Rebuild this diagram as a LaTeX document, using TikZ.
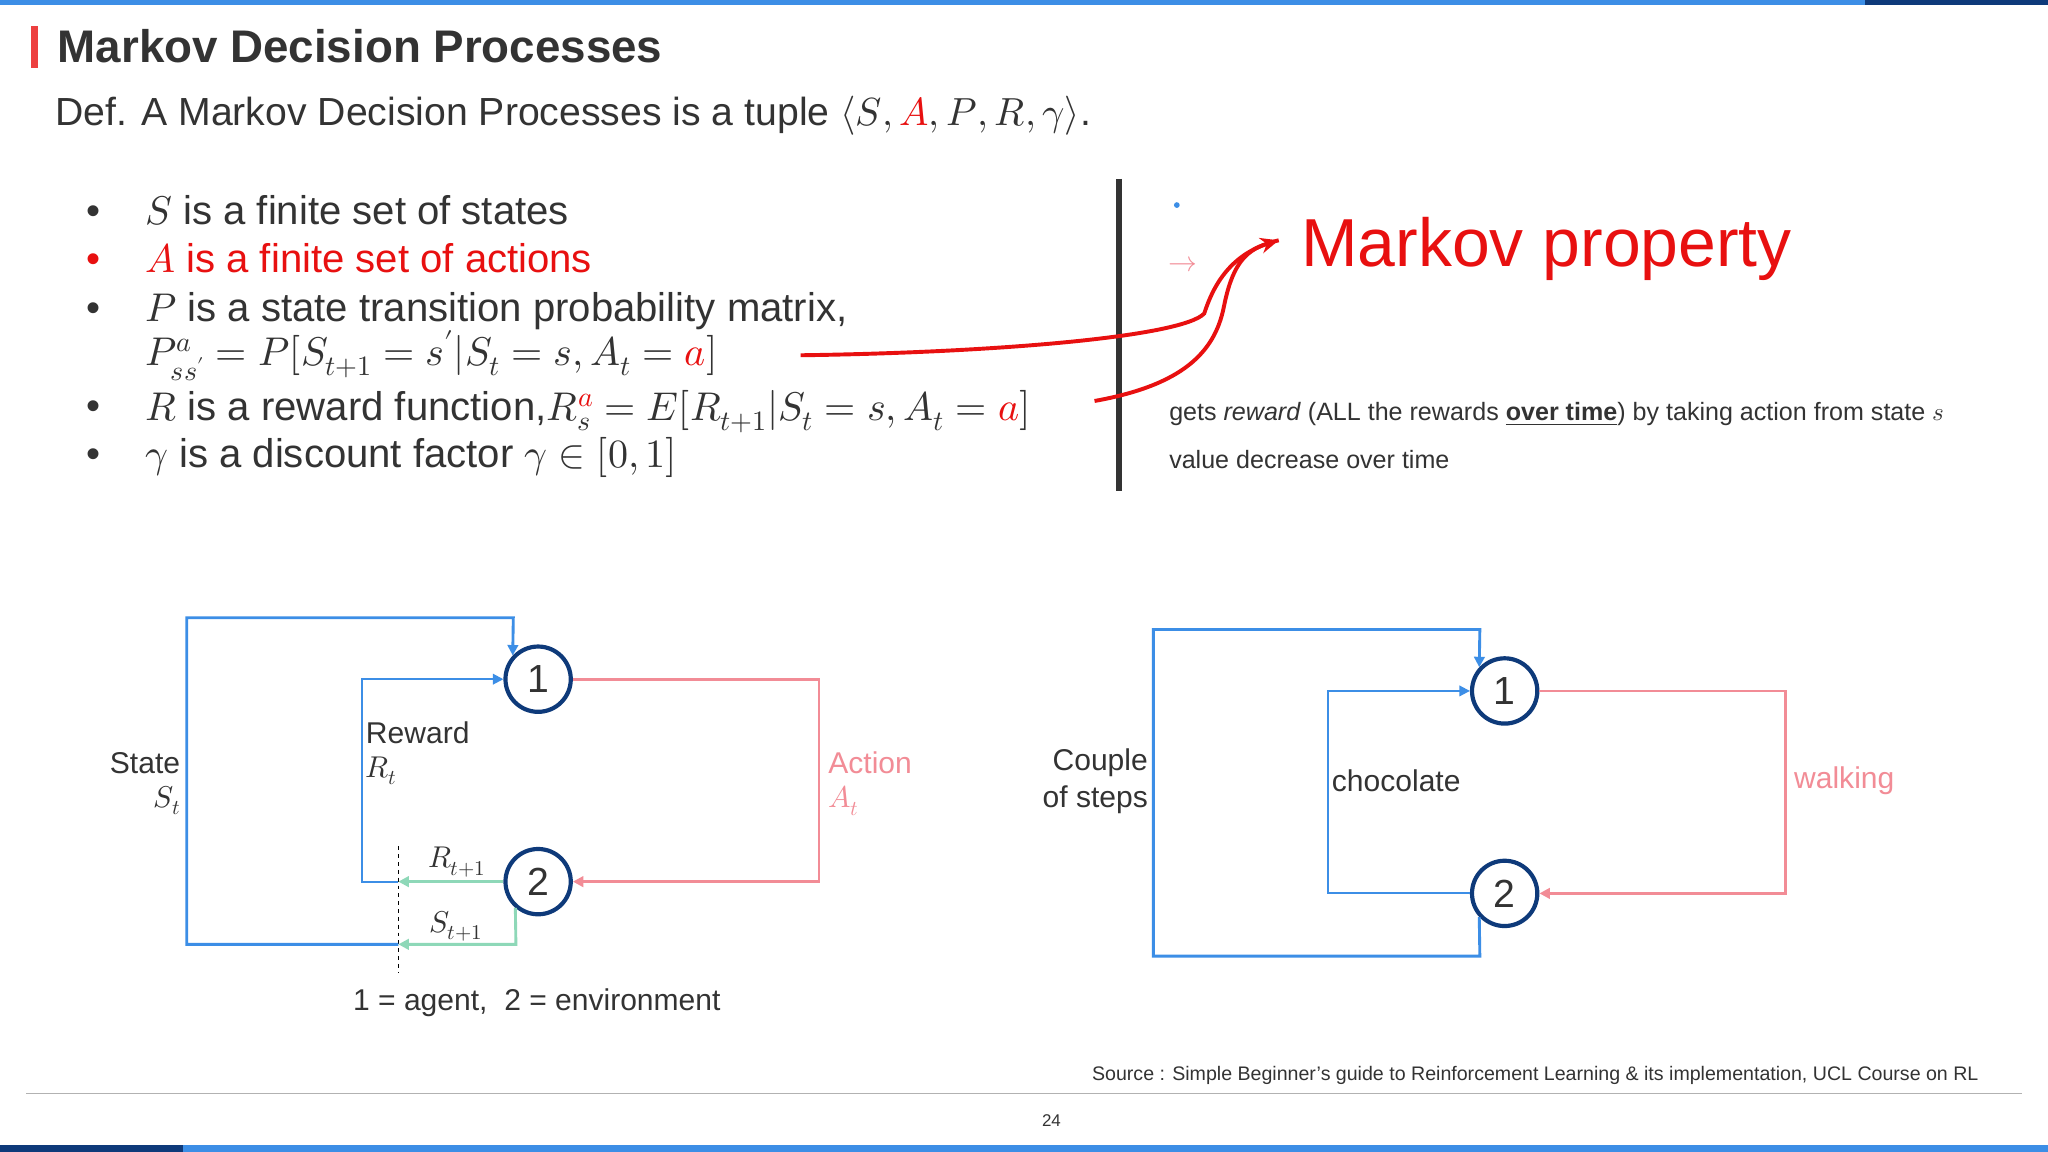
\documentclass[tikz,border=0pt]{standalone}
\usepackage{fontspec}
\usepackage{unicode-math}
\setmainfont{Liberation Sans}
\setmathfont{Latin Modern Math}
\usetikzlibrary{arrows.meta}
\definecolor{txt}{HTML}{333333}
\definecolor{bl}{HTML}{3C8EE6}
\definecolor{pk}{HTML}{F28C96}
\definecolor{gr}{HTML}{8ED8B8}
\definecolor{nv}{HTML}{0E3A7A}
\definecolor{rd}{HTML}{E81010}
\newcommand{\fs}[1]{\fontsize{#1}{#1}\selectfont}
\newcommand{\ra}{\textcolor{rd}{a}}
\begin{document}
\begin{tikzpicture}[x=1pt,y=-1pt,
  circ/.style={circle,draw=nv,line width=3.2pt,minimum size=50pt,inner sep=0pt,font=\fs{30}\color{txt}},
  bline/.style={draw=bl,line width=2.2pt},
  bthin/.style={draw=bl,line width=1.5pt},
  pline/.style={draw=pk,line width=2.2pt},
  gline/.style={draw=gr,line width=2.2pt},
  tip/.style={-{Triangle[length=8pt,width=8pt]}},
  lab/.style={font=\fs{23}\color{txt},inner sep=0pt},
  bt/.style={anchor=base west,inner sep=0pt,font=\fs{30.7}\color{txt}},
  redc/.style={draw=rd,line width=3pt}]
\fill[white] (0,0) rectangle (1568,882);
\useasboundingbox (0,0) rectangle (1568,882);
% bars
\fill[bl] (0,0) rectangle (1428,4);
\fill[nv] (1428,0) rectangle (1568,4);
\fill[nv] (0,877) rectangle (140,882);
\fill[bl] (140,877) rectangle (1568,882);
\draw[gray!60,line width=0.8pt] (20,837) -- (1548,837);
% title
\fill[rd!80] (24,20) rectangle (29,52);
\node[anchor=base west,inner sep=0pt,font=\fs{35}\bfseries\color{txt}] (title) at (44,48) {Markov Decision Processes};
\node[anchor=base west,inner sep=0pt,font=\fs{30}\color{txt}] (def) at (42,96) {Def. A Markov Decision Processes is a tuple $\langle S,{\color{rd}A},P,R,\gamma\rangle$.};
% bullets
\foreach \y in {172,246,321,358} \node[bt] at (66,\y) {•};
\node[bt,text=rd] at (66,209) {•};
\node[bt] (b1) at (111,172) {$S$ is a finite set of states};
\node[bt,text=rd] (b2) at (111,209) {$A$ is a finite set of actions};
\node[bt] (b3) at (111,246) {$P$ is a state transition probability matrix,};
\node[bt] (b3b) at (111,280) {$P^{a}_{ss'}=P[S_{t+1}=s'|S_t=s,A_t=\ra]$};
\node[bt] (b4) at (111,322) {$R$ is a reward function,$R_{s}^{\ra}=E[R_{t+1}|S_t=s,A_t=\ra]$};
\node[bt] (b5) at (111,358) {$\gamma$ is a discount factor $\gamma\in[0,1]$};
% separator
\draw[txt,line width=4.5pt] (857,137) -- (857,376);
\fill[bl] (901,157) circle (2.2pt);
\node[anchor=center,inner sep=0pt,font=\fs{22},text=pk] (arr) at (906,202) {$\rightarrow$};
\node[anchor=base west,inner sep=0pt,font=\fs{52},text=rd] (mp) at (996,204) {Markov property};
\node[anchor=base west,inner sep=0pt,font=\fs{19.2}\color{txt}] (g1) at (895,322) {gets \textit{reward} (ALL the rewards \underline{\textbf{over time}}) by taking action from state $s$};
\node[anchor=base west,inner sep=0pt,font=\fs{19.2}\color{txt}] (g2) at (895,359) {value decrease over time};
% red curves
\coordinate (c1s) at (613,272);
\coordinate (c2s) at (838,307);
\coordinate (ce) at (979,184);
\draw[redc] (c1s) .. controls (760,270) and (905,258) .. (922,240) .. controls (930,215) and (945,192) .. (ce);
\draw[redc,-{Stealth[length=14pt,width=12pt]}] (c2s) .. controls (905,295) and (930,270) .. (937,235) .. controls (943,205) and (952,192) .. (ce);
% left diagram
\node[circ] (n1) at (412,520) {1};
\node[circ] (n2) at (412,675) {2};
\coordinate (dtop) at (305,648);
\coordinate (dbot) at (305,745);
\draw[black,dashed,line width=0.8pt] (dtop) -- (dbot);
\draw[bline,tip] (305,723) -- (143,723) -- (143,473) -- (393,473) -- (n1.137);
\draw[bthin,tip] (305,675) -- (277,675) -- (277,520) -- (n1.west);
\draw[gline,tip] (n2.west) -- (305,675);
\draw[gline,tip] (n2.-131) -- (395,723) -- (305,723);
\draw[pline,tip] (n1.east) -- (627,520) -- (627,675) -- (n2.east);
\node[lab] (st) at (111,584) {State};
\node[lab] (stm) at (128,613) {$S_t$};
\node[lab,anchor=west] (rw) at (280,561) {Reward};
\node[lab,anchor=west] (rwm) at (280,590) {$R_t$};
\node[lab,anchor=west,text=pk] (ac) at (634,584) {Action};
\node[lab,anchor=west,text=pk] (acm) at (634,613) {$A_t$};
\node[lab] (r1) at (350,660) {$R_{t+1}$};
\node[lab] (s1) at (349,709) {$S_{t+1}$};
\node[lab] (leg) at (411,768) {1 = agent,\ \ 2 = environment};
% right diagram
\node[circ] (m1) at (1152,529) {1};
\node[circ] (m2) at (1152,684) {2};
\draw[bline,tip] (m2.-137) -- (1133,732) -- (883,732) -- (883,482) -- (1133,482) -- (m1.137);
\draw[bthin,tip] (m2.west) -- (1017,684) -- (1017,529) -- (m1.west);
\draw[pline,tip] (m1.east) -- (1367,529) -- (1367,684) -- (m2.east);
\node[lab,align=right,anchor=east] (cs) at (879,598) {Couple\\[5pt]of steps};
\node[lab] (ch) at (1069,598) {chocolate};
\node[lab,text=pk] (wk) at (1412,598) {walking};
% footer
\node[anchor=east,inner sep=0pt,font=\fs{15}\color{txt}] (src) at (1515,823) {Source : Simple Beginner’s guide to Reinforcement Learning \& its implementation, UCL Course on RL};
\node[inner sep=0pt,font=\fs{13}\color{txt}] (pg) at (805,858) {24};
\end{tikzpicture}
\end{document}
